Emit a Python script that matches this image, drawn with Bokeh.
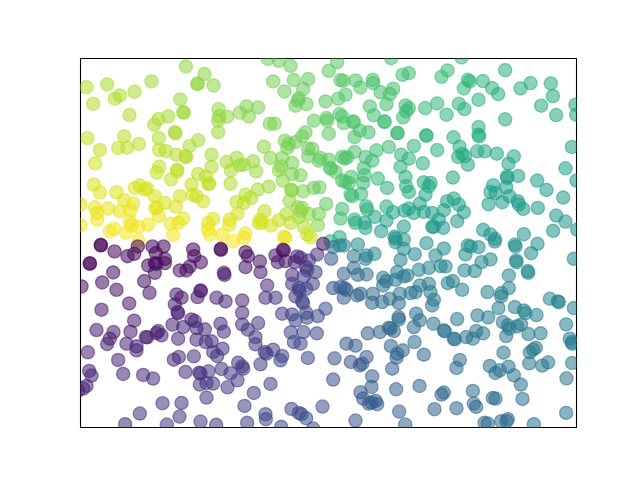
import numpy as np
from bokeh.plotting import figure, ColumnDataSource
from bokeh.palettes import Viridis256
from bokeh.embed import file_html
from bokeh.resources import INLINE

# Readings from the picture, grouped by region of the plot.
# Each region's readings are in thirds of a pixel from that region's corner.
north_west = [(328,35),(384,58),(363,87),(363,87),(411,92),(225,80),(92,89),(30,97),(130,122),(115,132),(174,111),(50,147),(159,181),(311,134),(320,172),(322,174),(426,163),(428,185),(425,198),(452,186),(425,232),(490,174),(275,185),(246,193),(233,210),(295,232),(297,236),(33,250),(143,245),(247,250),(125,280),(152,279),(187,268),(70,286),(365,257),(339,274),(248,286),(268,289),(299,300),(329,307),(327,305),(405,300),(56,326),(450,322),(480,310),(463,347),(490,332),(405,337),(388,366),(365,358),(248,336),(241,354),(302,345),(302,350),(284,374),(52,390),(70,414),(398,387),(396,388),(462,387),(345,390),(348,420),(120,413),(175,400),(190,392),(212,402),(205,405),(235,425),(310,425),(360,425),(380,440),(480,442),(143,437),(170,447),(265,445),(298,456),(240,458),(237,462),(12,450),(55,458),(95,462),(130,470),(162,468),(62,475),(62,495),(247,484),(320,492),(305,505),(283,508),(290,541),(483,477),(460,495),(458,510),(410,493),(395,505),(395,525),(400,540),(12,512),(112,522),(100,530),(148,534),(160,500),(165,512),(185,518),(215,510),(437,540),(470,560),(185,558)]
north_mid = [(82,12),(115,18),(150,33),(290,22),(452,10),(265,48),(98,80),(160,76),(203,73),(132,110),(188,103),(300,76),(308,78),(345,77),(397,75),(398,85),(360,98),(420,112),(458,102),(448,118),(438,148),(486,60),(505,55),(175,130),(172,138),(165,153),(198,148),(255,140),(293,132),(315,120),(388,155),(400,182),(432,200),(432,202),(495,152),(497,170),(488,188),(505,160),(18,155),(53,158),(25,185),(88,207),(102,207),(297,178),(305,185),(258,190),(260,198),(220,198),(310,205),(338,200),(340,203),(265,237),(195,233),(185,245),(358,228),(384,233),(342,247),(470,235),(472,235),(133,258),(145,268),(165,262),(140,280),(70,276),(445,277),(215,282),(203,282),(203,305),(342,292),(408,287),(375,307),(395,318),(482,300),(505,312),(480,337),(305,307),(320,308),(313,312),(90,310),(125,310),(240,310),(265,315),(235,318),(38,320),(10,330),(47,350),(122,335),(115,347),(155,325),(155,358),(180,362),(268,340),(272,342),(285,352),(370,340),(372,362),(368,385),(332,367),(305,378),(315,382),(325,385),(127,378),(412,372),(495,367),(497,395),(505,412),(85,396),(52,405),(152,405),(155,408),(188,410),(220,400),(237,398),(440,400),(362,418),(330,420),(335,425),(15,420),(32,430),(10,445),(147,438),(257,448),(172,458),(185,460),(180,470),(72,470),(138,478),(205,478),(235,478),(175,488),(115,497),(305,463),(300,492),(377,455),(380,465),(403,487),(438,456),(458,473),(492,468),(505,462),(438,498),(342,495),(345,505),(373,505),(375,520),(150,505),(92,513),(60,495),(55,505),(65,505),(190,517),(232,512),(422,530),(490,516),(200,540),(210,548),(130,547),(135,550),(15,537),(10,550),(297,548),(270,560),(462,547),(465,552),(490,555)]
north_east = [(153,8),(111,47),(93,66),(284,46),(172,75),(178,80),(160,101),(217,79),(245,100),(263,118),(330,101),(360,85),(421,86),(427,124),(204,135),(44,160),(80,146),(108,180),(145,147),(162,163),(392,153),(437,181),(495,150),(497,180),(284,194),(204,217),(204,240),(206,245),(47,242),(48,243),(129,248),(10,274),(147,276),(80,286),(155,298),(143,307),(163,305),(172,330),(200,290),(223,290),(259,297),(310,305),(294,327),(37,326),(484,277),(465,341),(127,369),(290,365),(290,370),(323,364),(380,378),(408,406),(458,429),(498,378),(40,383),(60,385),(55,395),(45,420),(248,392),(240,412),(255,415),(287,398),(297,425),(275,443),(234,449),(322,440),(325,450),(338,463),(382,460),(437,483),(465,501),(428,529),(130,432),(110,440),(145,450),(100,467),(160,473),(140,500),(28,447),(10,475),(40,472),(65,475),(85,495),(65,517),(70,517),(98,520),(218,526),(240,540),(253,553),(340,539),(500,525)]
south_west = [(73,13),(73,15),(114,33),(184,18),(228,18),(261,18),(153,47),(173,40),(238,38),(350,27),(353,47),(433,25),(433,28),(40,68),(40,70),(215,75),(235,68),(240,70),(265,55),(265,68),(373,65),(340,78),(310,90),(330,90),(235,97),(110,96),(203,122),(77,126),(442,97),(444,103),(15,138),(120,148),(219,157),(372,150),(373,152),(363,170),(300,162),(315,172),(420,172),(447,183),(158,189),(295,192),(303,215),(305,218),(75,208),(173,241),(345,237),(355,242),(288,253),(320,260),(360,263),(385,267),(432,250),(442,274),(60,269),(111,275),(162,274),(245,272),(240,278),(255,285),(212,291),(208,290),(100,295),(92,311),(305,295),(360,298),(388,305),(405,303),(150,310),(180,318),(180,330),(34,336),(438,325),(410,335),(422,347),(307,350),(292,358),(352,348),(125,359),(485,367),(435,386),(462,399),(327,395),(368,397),(372,400),(396,393),(38,392),(45,406),(140,401),(200,404),(230,415),(483,420),(370,433),(390,428),(410,430),(453,441),(30,437),(20,445),(5,450),(390,472),(258,489),(315,488),(190,520),(309,529),(372,544),(146,552),(271,553),(419,554)]
south_mid = [(15,35),(22,47),(15,80),(58,63),(60,95),(105,45),(112,65),(135,62),(130,30),(127,28),(163,65),(170,48),(180,52),(205,60),(230,42),(248,10),(197,80),(200,90),(225,95),(155,103),(190,108),(217,130),(155,130),(80,135),(175,142),(177,150),(197,145),(75,172),(105,172),(165,168),(5,180),(185,182),(188,188),(255,205),(5,217),(125,220),(155,222),(197,217),(165,240),(200,232),(232,227),(53,248),(5,252),(22,268),(151,276),(189,275),(229,279),(45,290),(45,312),(160,305),(180,310),(98,328),(73,335),(78,340),(125,347),(120,360),(60,372),(202,353),(5,378),(8,385),(90,431),(40,458),(12,497),(75,522),(76,537),(153,506),(175,518),(183,522),(197,534),(20,548),(122,560),(246,499),(218,565),(278,418),(282,354),(318,310),(345,316),(331,365),(378,350),(358,375),(365,370),(382,279),(395,408),(393,440),(360,456),(368,475),(385,490),(393,487),(405,482),(410,492),(345,541),(467,447),(476,514),(494,553),(451,317),(487,330),(470,340),(468,352),(455,385),(418,275),(445,262),(450,265),(460,272),(474,230),(475,237),(278,143),(300,140),(312,143),(318,148),(310,172),(350,165),(360,160),(397,160),(395,187),(425,185),(448,175),(478,160),(475,188),(510,158),(272,55),(278,20),(298,15),(310,15),(352,12),(340,47),(375,55),(378,45),(402,40),(340,82),(310,100),(352,103),(378,102),(428,112),(428,135),(437,122),(470,95),(465,118),(490,108),(500,105),(480,58),(490,25),(465,5)]
south_east = [(48,8),(100,24),(13,41),(75,45),(165,42),(172,15),(180,18),(204,20),(253,3),(313,12),(315,18),(381,10),(362,38),(490,55),(240,57),(213,65),(162,90),(193,92),(317,60),(318,65),(352,92),(353,97),(295,105),(105,78),(90,77),(55,82),(25,88),(127,122),(112,128),(155,148),(295,143),(273,158),(272,168),(231,155),(55,130),(28,135),(15,155),(60,155),(70,178),(65,195),(418,175),(442,183),(445,185),(490,203),(264,203),(313,200),(340,210),(345,218),(378,224),(17,220),(28,240),(10,260),(69,250),(140,236),(201,225),(233,231),(277,245),(292,255),(297,265),(332,252),(320,258),(467,252),(100,270),(103,273),(130,295),(133,297),(167,290),(187,295),(197,272),(218,279),(287,287),(354,281),(390,279),(12,305),(478,295),(484,305),(485,310),(40,343),(279,337),(376,322),(358,336),(368,328),(148,359),(138,383),(238,377),(294,379),(413,366),(395,376),(356,369),(485,368),(255,398),(268,390),(310,405),(331,433),(468,414),(27,437),(100,457),(93,463),(187,452),(247,473),(255,475),(336,476),(190,490),(197,500),(72,507),(138,504),(467,518),(222,548),(232,550),(272,543),(292,537),(288,543),(370,552)]

# Region corners in data units.
regions = [
    (north_west, -252, 188.5),
    (north_mid,  -88,  188.5),
    (north_east,  82,  188.5),
    (south_west, -252, 2.5),
    (south_mid,  -88,  2.5),
    (south_east,  82,  2.5),
]

xs, ys = [], []
for pts, x0, y0 in regions:
    for cx, cy in pts:
        xs.append((cx / 3 + x0) * 3 / 496)
        ys.append((y0 - cy / 3) * 3 / 369.6)
xs = np.array(xs)
ys = np.array(ys)

angle = np.arctan2(ys, xs)
idx = np.clip(((angle + np.pi) / (2 * np.pi) * 255).astype(int), 0, 255)
colors = [Viridis256[i] for i in idx]

src = ColumnDataSource(dict(x=xs, y=ys, c=colors))

p = figure(width=624, height=464, output_backend="svg", toolbar_location=None,
           x_range=(-1.5, 1.5), y_range=(-1.5, 1.5),
           min_border_left=80, min_border_right=48, min_border_top=58, min_border_bottom=37)
p.xaxis.visible = False
p.yaxis.visible = False
p.grid.visible = False
p.outline_line_color = "black"
p.outline_line_width = 1.1
p.background_fill_color = "white"
p.border_fill_color = "white"

p.scatter("x", "y", source=src, size=13.2, marker="circle",
          fill_color="c", line_color="c", fill_alpha=0.55, line_alpha=0.55, line_width=1.3)

open("out.html", "w").write(file_html(p, INLINE))
